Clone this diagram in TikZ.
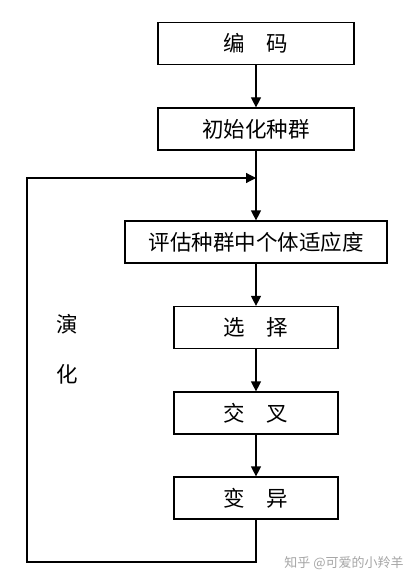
\documentclass[tikz,border=0pt]{standalone}
\usepackage{fontspec}
\setmainfont{Noto Sans CJK SC}
\usetikzlibrary{arrows.meta}
\begin{document}
\begin{tikzpicture}[x=1pt,y=-1pt,
  box/.style={draw, line width=1.2pt, minimum height=42pt, inner sep=0pt, font=\fontsize{21.5}{23}\selectfont},
  conn/.style={line width=1.2pt, -{Triangle[length=10pt,width=10pt]}},
  plain/.style={line width=1.2pt}]
\useasboundingbox (0,0) rectangle (417,583);
\fill[white] (0,0) rectangle (417,583);
\node[box, minimum width=196pt] (b1) at (256,43.5) {编　码};
\node[box, minimum width=196pt] (b2) at (256,129) {初始化种群};
\node[box, minimum width=262pt] (b3) at (256,242) {评估种群中个体适应度};
\node[box, minimum width=164pt] (b4) at (256,327.5) {选　择};
\node[box, minimum width=164pt] (b5) at (256,413) {交　叉};
\node[box, minimum width=164pt] (b6) at (256,498) {变　异};
\node[font=\fontsize{21.5}{23}\selectfont] (t1) at (67,324) {演};
\node[font=\fontsize{21.5}{23}\selectfont] (t2) at (67,374) {化};
\node[font=\fontsize{13}{15}\selectfont, text=black!35] (wm) at (344,563) {知乎 @可爱的小羚羊};
\coordinate (lb) at (27,562);
\coordinate (lt) at (27,178);
\coordinate (rb) at (256,562);
\coordinate (m) at (256,178);
\draw[conn] (b1) -- (b2);
\draw[conn] (b2) -- (b3);
\draw[conn] (b3) -- (b4);
\draw[conn] (b4) -- (b5);
\draw[conn] (b5) -- (b6);
\draw[plain] (b6.south) -- (rb) -- (lb) -- (lt) -- ([xshift=-10pt]m);
\draw[conn] (lt) -- (m);
\end{tikzpicture}
\end{document}
